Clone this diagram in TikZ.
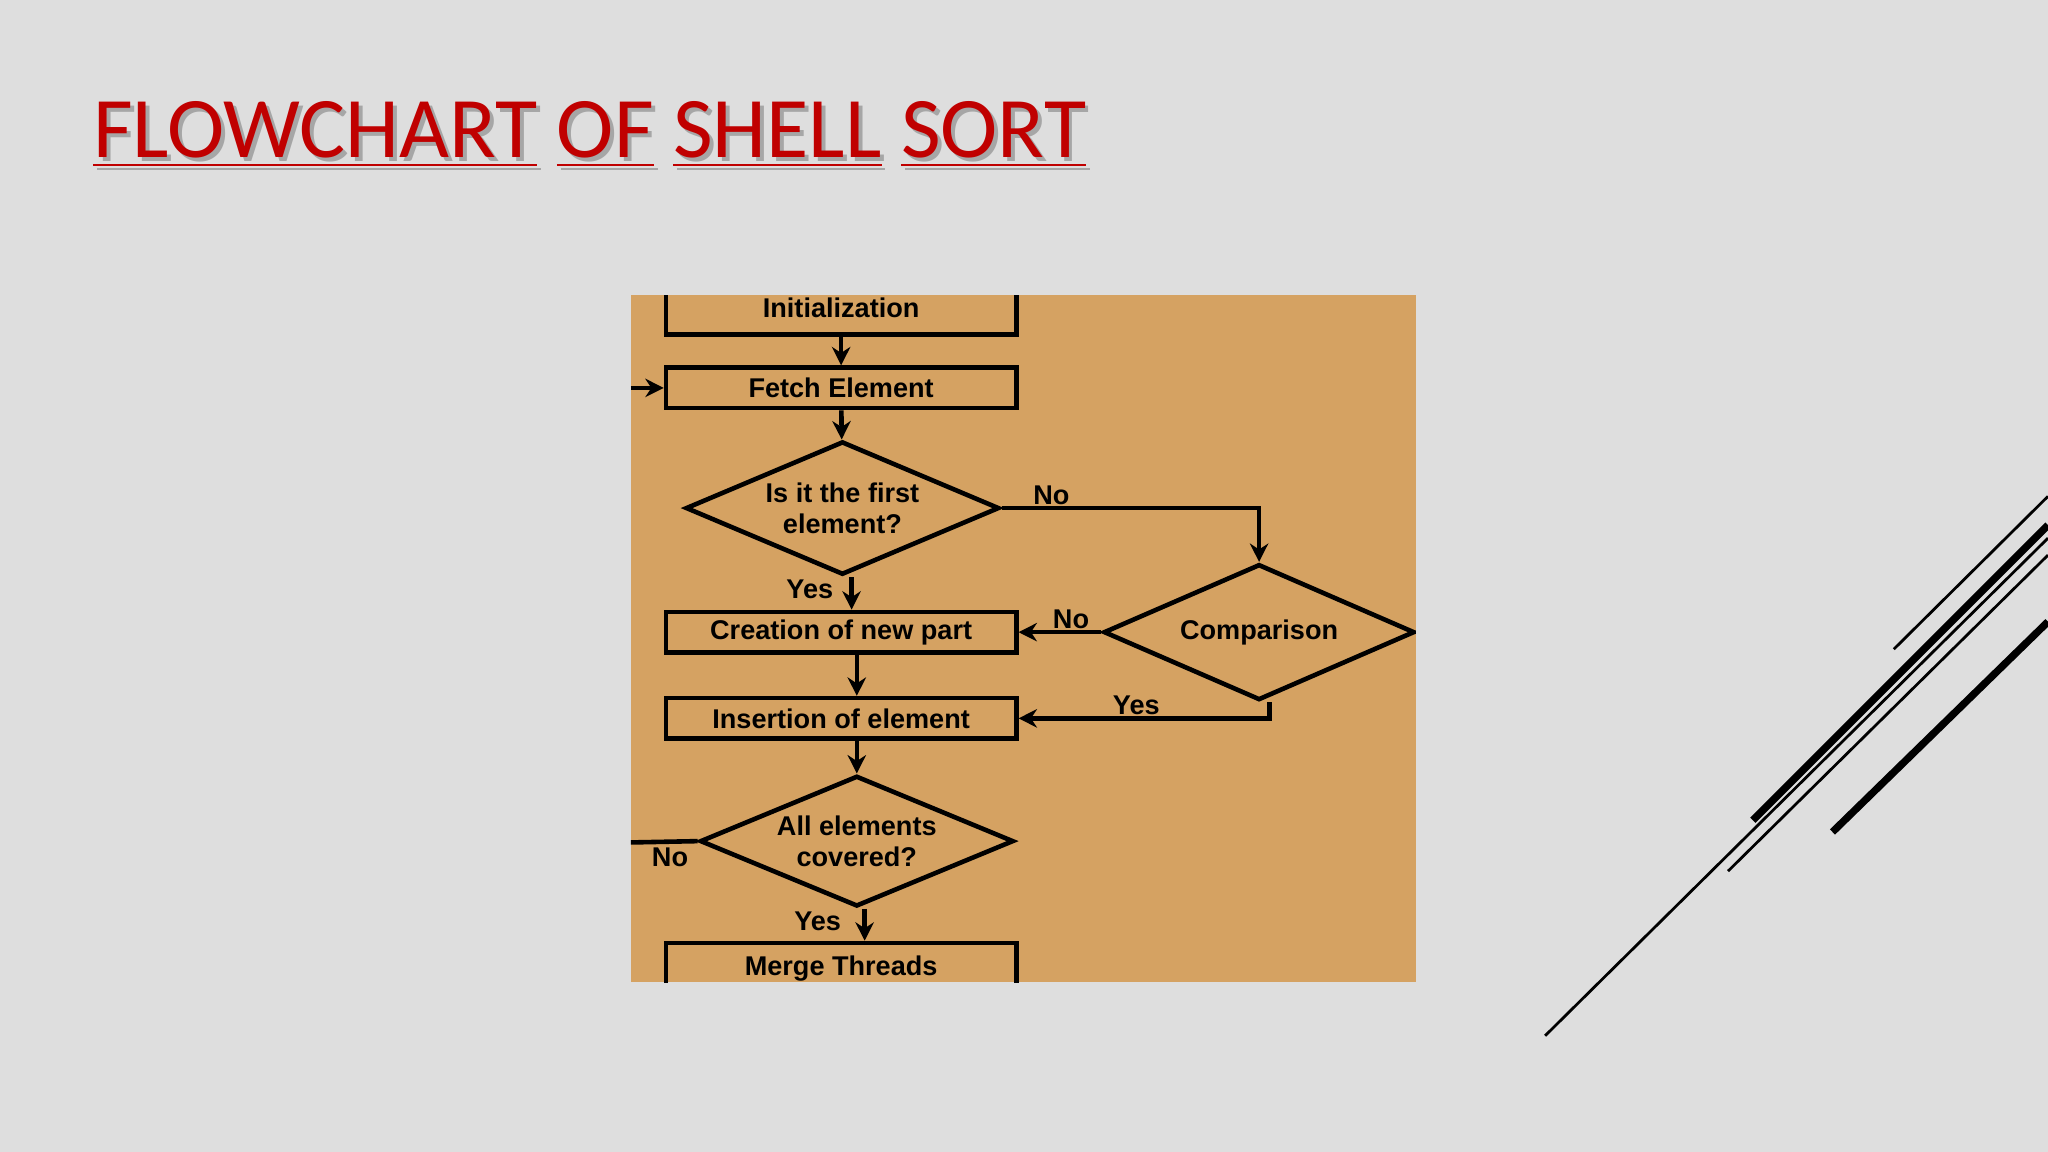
\documentclass[tikz,border=0pt]{standalone}
\usepackage{fontspec}
\setmainfont{Liberation Sans}
\newfontfamily\titlefont{Carlito}
\usetikzlibrary{arrows.meta,shapes.geometric}
\definecolor{bg}{HTML}{DEDEDE}
\definecolor{panel}{HTML}{D5A262}
\definecolor{tred}{HTML}{C00000}
\tikzset{
 fc/.style={font=\fontsize{5.9}{6.8}\selectfont\bfseries, text=black, align=center},
 boxn/.style={fc, draw=black, line width=1pt, minimum width=2.68cm, minimum height=0.31cm, inner sep=0pt},
 dia/.style={fc, draw=black, line width=1pt, diamond, aspect=2.35, inner sep=0pt},
 arr/.style={line width=1pt, -{Stealth[length=4pt,width=4pt]}},
 ln/.style={line width=1pt},
 lab/.style={fc},
 deco/.style={black}
}
\begin{document}
\begin{tikzpicture}[x=0.01cm,y=-0.01cm]
\fill[bg] (0,0) rectangle (1568,882);
\useasboundingbox (0,0) rectangle (1568,882);
% title
\node[anchor=west, text=gray!70, font=\titlefont\fontsize{18.8}{21}\selectfont] at (62,106) {\underline{FLOWCHART} \underline{OF} \underline{SHELL} \underline{SORT}};
\node[anchor=west, text=tred, font=\titlefont\fontsize{18.8}{21}\selectfont] (title) at (59,103) {\underline{FLOWCHART} \underline{OF} \underline{SHELL} \underline{SORT}};
% decoration
\draw[deco, line width=0.6pt] (1450,497) -- (1568,380);
\draw[deco, line width=1.6pt] (1342,628) -- (1568,402);
\draw[deco, line width=0.6pt] (1323,667) -- (1568,425);
\draw[deco, line width=1.6pt] (1403,637) -- (1568,476);
\draw[deco, line width=0.6pt] (1183,793) -- (1568,412);
% panel
\fill[panel] (483,226) rectangle (1084,752);
\begin{scope}
\clip (483,226) rectangle (1084,752);
\node[boxn, minimum height=0.40cm] (init) at (644,236) {\raisebox{-1.5pt}{Initialization}};
\node[boxn] (fetch) at (644,297) {Fetch Element};
\node[dia, minimum width=2.40cm, minimum height=1.02cm] (d1) at (645,389) {Is it the first\\element?};
\node[boxn] (create) at (644,484) {Creation of new part};
\node[boxn] (ins) at (644,550) {Insertion of element};
\node[dia, minimum width=2.38cm, minimum height=1.04cm] (comp) at (964,484) {Comparison};
\node[dia, minimum width=2.40cm, minimum height=1.00cm] (d3) at (656,644) {All elements\\covered?};
\node[boxn, minimum height=0.40cm] (merge) at (644,742) {\raisebox{1.5pt}{Merge Threads}};
\coordinate (inL) at (483,297);
\coordinate (outL) at (483,645);
\draw[arr] (init) -- (fetch);
\draw[arr] (inL) -- (fetch);
\draw[arr] (fetch) -- (d1);
\draw[arr] (d1.south) ++(7,0) coordinate (y1) -- (y1 |- create.north);
\draw[arr] (d1.east) -| (comp.north);
\draw[arr] (comp.west) -- (create.east);
\draw[arr] (comp.south) ++(8,0) coordinate (cs) -- (cs |- ins.east) -- (ins.east);
\draw[arr] (create.south -| d3.north) -- (ins.north -| d3.north);
\draw[arr] (ins.south -| d3.north) -- (d3.north);
\draw[ln] (d3.west) -- (outL);
\draw[arr] (d3.south) ++(6,0) coordinate (y3) -- (y3 |- merge.north);
\node[lab] at (805,379) {No};
\node[lab] at (620,451) {Yes};
\node[lab] at (820,474) {No};
\node[lab] at (870,540) {Yes};
\node[lab] at (513,656) {No};
\node[lab] at (626,705) {Yes};
\end{scope}
\end{tikzpicture}
\end{document}
